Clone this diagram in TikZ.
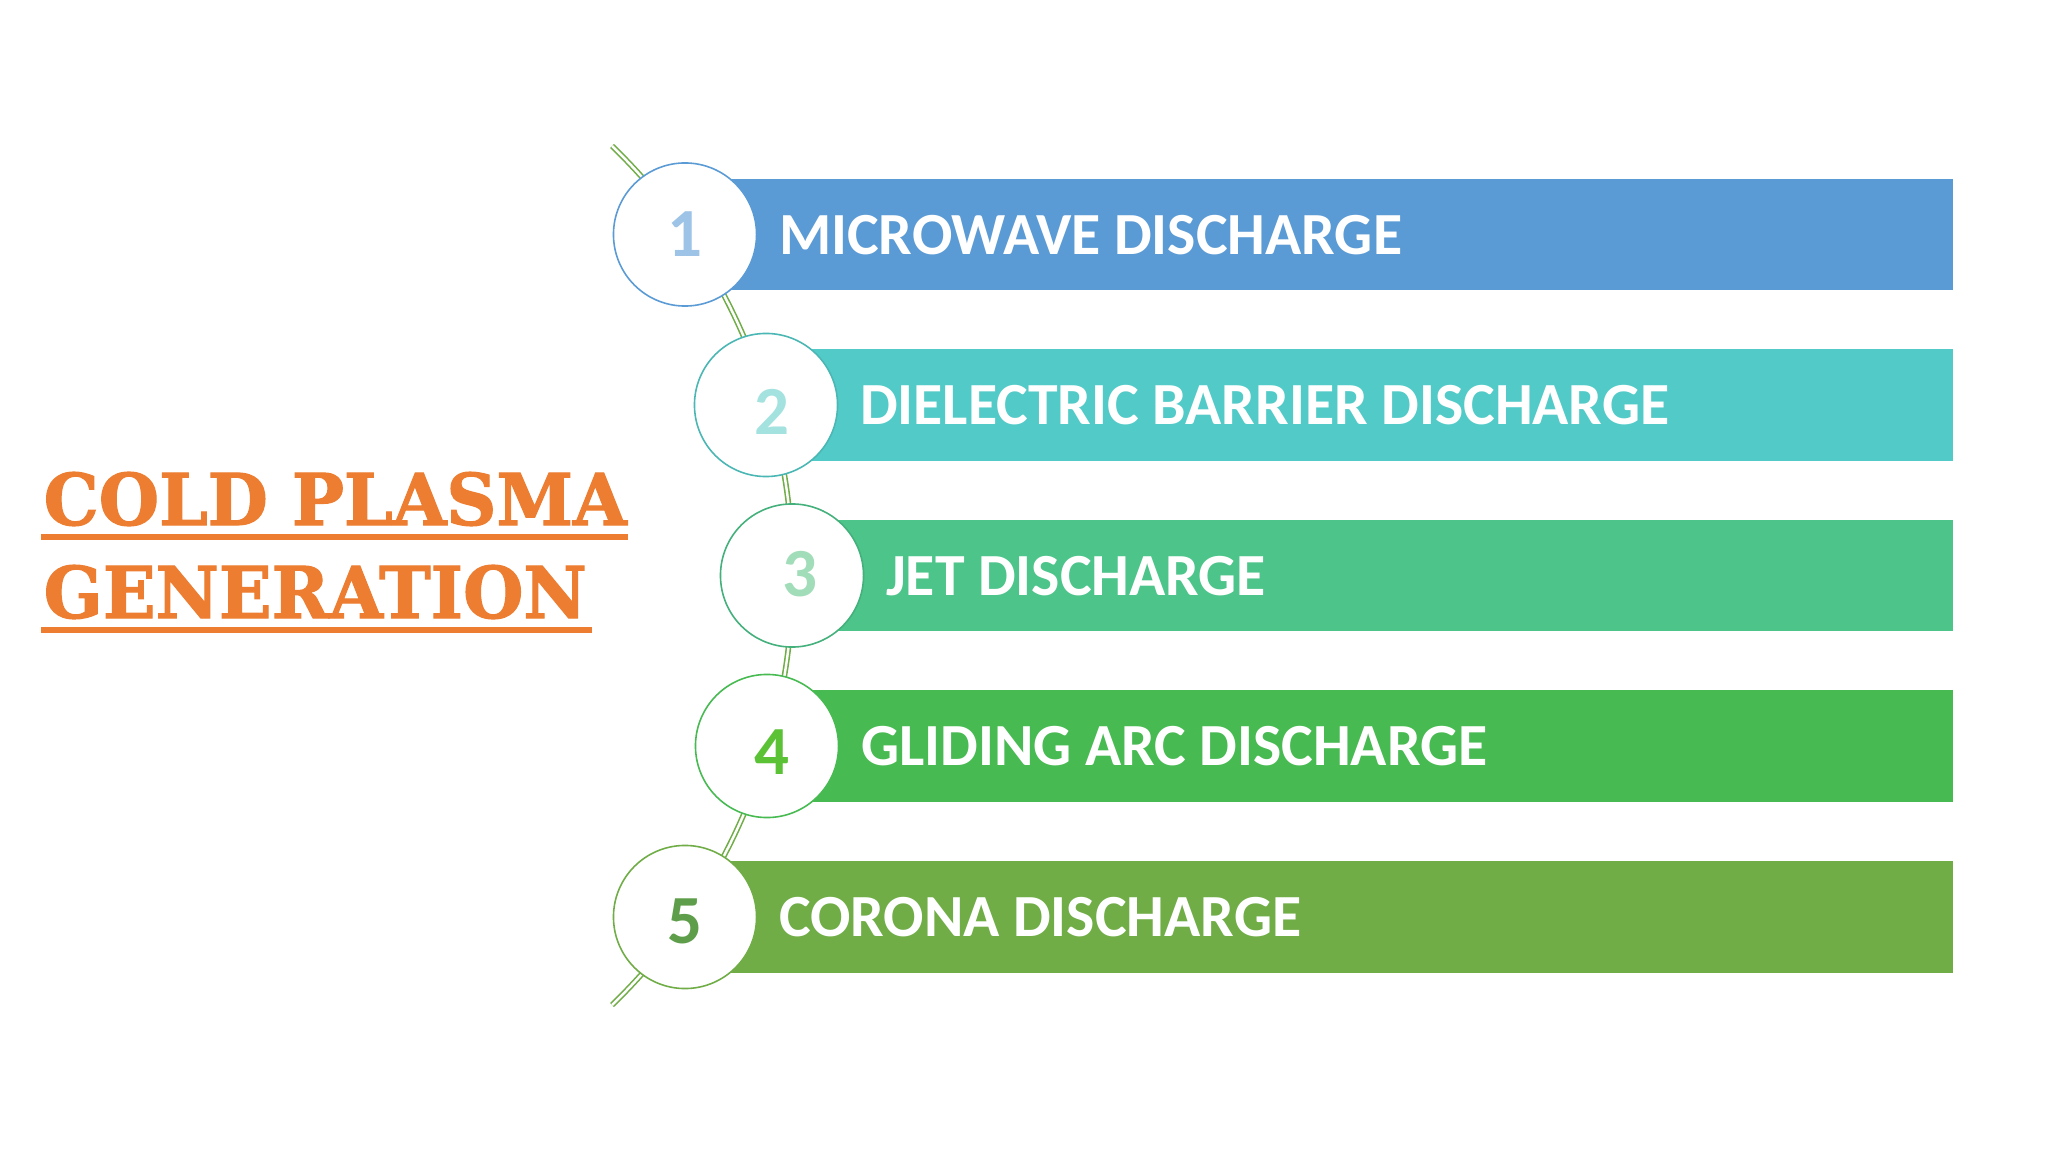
\documentclass[tikz,border=0pt]{standalone}
\usepackage{fontspec}
\setmainfont{Carlito}
\newfontfamily\titlefont[FakeStretch=0.97, FakeBold=1.6]{DejaVu Serif Bold}
\usetikzlibrary{positioning,calc}

\definecolor{barA}{HTML}{5B9BD5}
\definecolor{barB}{HTML}{52CBC8}
\definecolor{barC}{HTML}{4CC48A}
\definecolor{barD}{HTML}{47BA52}
\definecolor{barE}{HTML}{70AD47}
\definecolor{numA}{HTML}{9DC3E6}
\definecolor{numB}{HTML}{A4E2E0}
\definecolor{numC}{HTML}{A2DDBA}
\definecolor{numD}{HTML}{5BC236}
\definecolor{numE}{HTML}{5E9E4B}
\definecolor{spine}{HTML}{70AD47}
\definecolor{titleorange}{HTML}{ED7D31}

\tikzset{
	stepcirc/.style={circle, draw, fill=white, line width=0.45pt, minimum size=1.43cm, inner sep=0pt},
	stepnum/.style={inner sep=0pt, font=\bfseries\fontsize{19.6}{20}\selectfont},
	barbox/.style={rectangle, minimum height=1.11cm, inner sep=0pt, anchor=west},
	lbl/.style={text=white, inner sep=0pt, text height=0.39cm, text depth=0pt,
		font=\bfseries\fontsize{17}{18}\selectfont},
	titletext/.style={text=titleorange, inner sep=0pt, anchor=base west,
		font=\titlefont\fontsize{20.3}{21}\selectfont},
	uline/.style={draw=titleorange, line width=1.5pt}
}

\begin{document}
\begin{tikzpicture}[x=0.01cm, y=-0.01cm]
		\useasboundingbox[fill=white] (0,0) rectangle (2048,1152);
		% circle centres
		\coordinate (p1) at (685,234.5);
		\coordinate (p2) at (766,405);
		\coordinate (p3) at (792,575.5);
		\coordinate (p4) at (767,746);
		\coordinate (p5) at (685,917);
		% bars
		\node (b1) [barbox, fill=barA, minimum width=12.67cm] at (p1) {};
		\node (b2) [barbox, fill=barB, minimum width=11.86cm] at (p2) {};
		\node (b3) [barbox, fill=barC, minimum width=11.60cm] at (p3) {};
		\node (b4) [barbox, fill=barD, minimum width=11.85cm] at (p4) {};
		\node (b5) [barbox, fill=barE, minimum width=12.67cm] at (p5) {};
		% spine
		\coordinate (ctop) at (612,146);
		\coordinate (cbot) at (612,1005);
		\draw[spine, line width=0.45pt, double=white, double distance=0.7pt] (ctop) to[bend left=46] (cbot);
		% circles
		\node (c1) [stepcirc, draw=barA] at (p1) {};
		\node (c2) [stepcirc, draw=barB!90!black] at (p2) {};
		\node (c3) [stepcirc, draw=barC!90!black] at (p3) {};
		\node (c4) [stepcirc, draw=barD] at (p4) {};
		\node (c5) [stepcirc, draw=barE] at (p5) {};
		\node (n1) [stepnum, text=numA] at (c1) {1};
		\node (n2) [stepnum, text=numB] at ($(c2)+(6,7)$) {2};
		\node (n3) [stepnum, text=numC] at ($(c3)+(8,-1)$) {3};
		\node (n4) [stepnum, text=numD] at ($(c4)+(5,6)$) {4};
		\node (n5) [stepnum, text=numE] at ($(c5)+(0,4)$) {5};
		% labels
		\node (l1) [lbl, right=0.21cm of c1] {MICROWAVE DISCHARGE};
		\node (l2) [lbl, right=0.21cm of c2] {DIELECTRIC BARRIER DISCHARGE};
		\node (l3) [lbl, right=0.21cm of c3] {JET DISCHARGE};
		\node (l4) [lbl, right=0.21cm of c4] {GLIDING ARC DISCHARGE};
		\node (l5) [lbl, right=0.21cm of c5] {CORONA DISCHARGE};
		% title
		\node (t1) [titletext] at (43,525) {COLD PLASMA};
		\node (t2) [titletext] at (43,618) {GENERATION};
		\draw[uline] ($(t1.base west)+(-2,12)$) -- ($(t1.base east)+(0,12)$);
		\draw[uline] ($(t2.base west)+(-2,12)$) -- ($(t2.base east)+(5,12)$);
	\end{tikzpicture}
\end{document}
